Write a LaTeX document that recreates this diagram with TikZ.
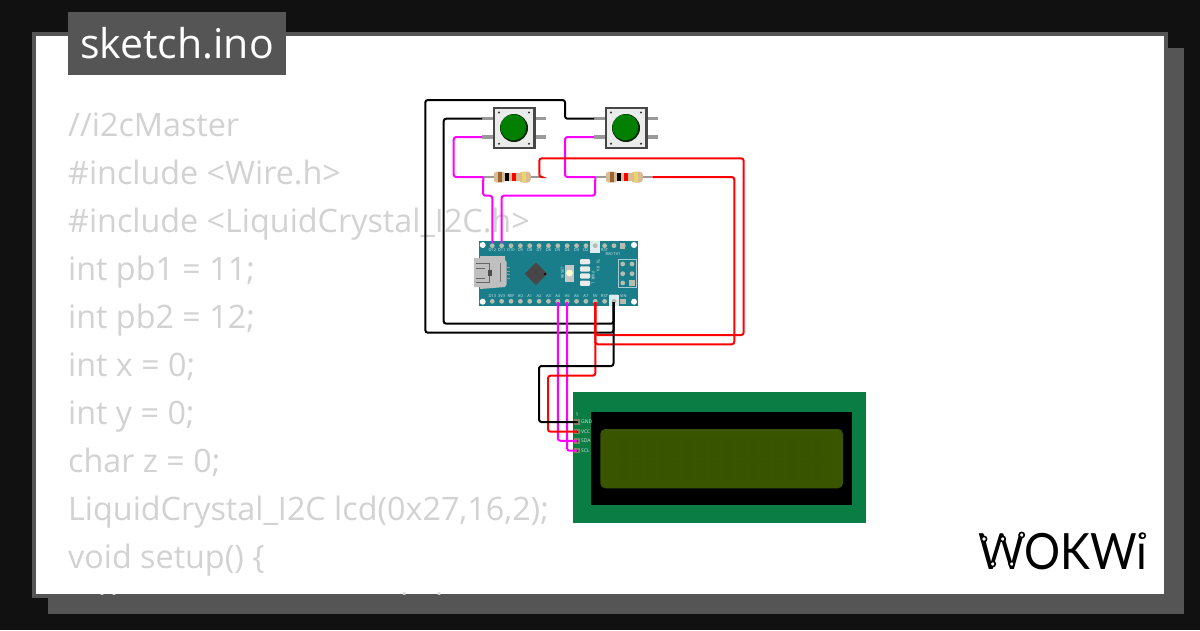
\documentclass[tikz,border=0pt]{standalone}
\usepackage{fontspec}
\setmainfont{Open Sans}
\newfontfamily\logofont{Lato}
\usetikzlibrary{shapes.geometric}
\definecolor{pagedark}{HTML}{111111}
\definecolor{framegray}{HTML}{555555}
\definecolor{codegray}{HTML}{D2D2D2}
\definecolor{nanoteal}{HTML}{1A7E8A}
\definecolor{lcdgreen}{HTML}{0A7D44}
\definecolor{lcdscreen}{HTML}{3A5500}
\definecolor{lcdcell}{HTML}{385400}
\definecolor{pinpad}{HTML}{8C8260}
\definecolor{wirepinkc}{HTML}{FF00FF}
\definecolor{restan}{HTML}{D9BB94}
\definecolor{resgold}{HTML}{EFD36A}
\definecolor{pincol}{HTML}{B4BDB0}
\definecolor{btngreen}{HTML}{007F00}
\tikzset{
  codeline/.style={anchor=base west,inner sep=0pt,text=codegray,font=\fontsize{32.3}{36}\selectfont},
  pinlbl/.style={inner sep=0pt,text=white!85!nanoteal,font=\fontsize{4}{5}\selectfont},
  lcdlbl/.style={anchor=west,inner sep=0pt,text=white!85!lcdgreen,font=\fontsize{5}{6}\selectfont},
  wire/.style={line width=2pt,rounded corners=2.5pt},
  wireblack/.style={wire,draw=black},
  wirered/.style={wire,draw=red},
  wirepink/.style={wire,draw=wirepinkc},
  lead/.style={line width=2pt,draw=black!40},
}
\begin{document}
\begin{tikzpicture}[x=1pt,y=-1pt]
 \useasboundingbox (0,0) rectangle (1200,630);
 \fill[pagedark] (0,0) rectangle (1200,630);
 \fill[framegray] (48,48) rectangle (1184,614);
 \fill[framegray] (32,32) rectangle (1168,598);
 \fill[white] (36,36) rectangle (1164,594);
% code behind the circuit
 \begin{scope}
  \clip (36,36) rectangle (1164,594);
  \node[codeline] (code1) at (68,136) {//i2cMaster};
  \node[codeline] (code2) at (68,184) {\#include <Wire.h>};
  \node[codeline] (code3) at (68,232) {\#include <LiquidCrystal\_I2C.h>};
  \node[codeline] (code4) at (68,280) {int pb1 = 11;};
  \node[codeline] (code5) at (68,328) {int pb2 = 12;};
  \node[codeline] (code6) at (68,376) {int x = 0;};
  \node[codeline] (code7) at (68,424) {int y = 0;};
  \node[codeline] (code8) at (68,472) {char z = 0;};
  \node[codeline] (code9) at (68,520) {LiquidCrystal\_I2C lcd(0x27,16,2);};
  \node[codeline] (code10) at (68,568) {void setup() \{};
  \node[codeline] (code11) at (92,617.5) {// put your setup code here, to run once:};
 \end{scope}
 \fill[framegray] (68,12) rectangle (286,75);
 \node[anchor=base west,inner sep=0pt,text=white,font=\fontsize{41}{46}\selectfont] (title) at (80,58) {sketch.ino};
% buttons
 \foreach \nm/\cx in {btna/514,btnb/626} {
  \draw[line width=3.5pt,black!40] (\cx-32,118.7)--(\cx+32,118.7);
  \draw[line width=3.5pt,black!40] (\cx-32,137)--(\cx+32,137);
  \draw[line width=2.6pt,draw=black!72,fill=black!8] (\cx-20.2,108) rectangle (\cx+20.2,148);
  \foreach \sx in {-15,15} \foreach \sy in {112.5,143.7} \fill[black!80] (\cx+\sx,\sy) circle (1.2pt);
  \fill[black!70!btngreen] (\cx,128) circle (14pt);
  \fill[btngreen] (\cx-0.7,127.3) circle (13pt);
  \coordinate (\nm T) at (\cx-32,118.7);
  \coordinate (\nm B) at (\cx-32,137);
 }
% resistors
 \foreach \nm/\cx in {resa/512.3,resb/624.3} {
  \draw[lead] (\cx-29,177)--(\cx+28,177);
  \fill[rounded corners=3pt,fill=restan] (\cx-18.5,171.7) rectangle (\cx-7,182.5);
  \fill[rounded corners=3pt,fill=restan] (\cx+7,171.7) rectangle (\cx+18.5,182.5);
  \fill[restan] (\cx-10,173) rectangle (\cx+10,181);
  \fill[brown!80!black] (\cx-14,172) rectangle (\cx-10.5,182.2);
  \fill[black] (\cx-7,173) rectangle (\cx-3.5,181);
  \fill[red] (\cx-0.2,173) rectangle (\cx+3.2,181);
  \fill[resgold] (\cx+10,172) rectangle (\cx+13.5,182.2);
  \coordinate (\nm L) at (\cx-29,177);
  \coordinate (\nm R) at (\cx+28,177);
 }
% nano
 \fill[nanoteal] (479,241) rectangle (637.7,305.7);
 \foreach \cx in {482.7,634} \foreach \cy in {245,301.7} \fill[white] (\cx,\cy) circle (3pt);
 \fill[white!85!nanoteal] (590.3,241) rectangle (599.5,252.5);
 \fill[white!85!nanoteal] (609,295) rectangle (618.5,306);
 \foreach \lbl [count=\i from 0] in {D12,D11,D10,D9,D8,D7,D6,D5,D4,D3,D2,GND,RST,,} {
  \fill[pincol] ({492.3+9.36*\i},245.7) circle (2.4pt);
  \node[pinlbl] (top\i) at ({492.3+9.36*\i},250.5) {\lbl};
 }
 \foreach \lbl [count=\i from 0] in {D13,3V3,REF,A0,A1,A2,A3,A4,A5,A6,A7,5V,RST,GND,VIN} {
  \fill[pincol] ({492.3+9.36*\i},301.3) circle (2.4pt);
  \node[pinlbl] (bot\i) at ({492.3+9.36*\i},296.3) {\lbl};
 }
 \fill[pincol] (619.8,243) rectangle (625.3,248.5);
 \fill[pincol] (620,298.5) rectangle (625.5,304);
 \node[pinlbl] (rxtx) at (613,254.5) {RX0 TX1};
% usb socket
 \fill[black!25] (474,258) -- (480,258) -- (480,256) -- (505,256) -- (505,260) -- (506.7,262) -- (506.7,284) -- (505,287) -- (480,289) -- (480,287) -- (474,287) -- cycle;
 \draw[line width=1pt,black!60] (476,263.5)--(489,263.5)--(489,282)--(476,282);
 \draw[line width=1pt,black!60] (476,268)--(485,268);
 \draw[line width=1pt,black!60] (476,278)--(485,278);
 \fill[black!70] (488,270) rectangle (492,276);
 \draw[line width=0.8pt,black!55] (500,263)--(500,282);
 \foreach \cy in {267.5,271,274.5,278} \draw[line width=0.7pt,black!40] (506.7,\cy)--(510,\cy);
% chip, reset button and leds
 \node[diamond,fill=black!72,minimum width=23pt,minimum height=23pt,inner sep=0pt] (chip) at (536,273.7) {};
 \fill[black] (545,274) circle (1.2pt);
 \fill[black!22] (565,265) rectangle (574,281.7);
 \fill[yellow!20!white] (569.5,273) circle (3.4pt);
 \node[pinlbl,rotate=90] (rstlbl) at (562.5,273) {RESET};
 \foreach \cy in {261.7,269,276,283.3} \fill[rounded corners=1pt,fill=black!8] (580,\cy-2.6) rectangle (590,\cy+2.6);
 \node[pinlbl,rotate=-90] (txlbl) at (598,261.5) {TX};
 \node[pinlbl,rotate=-90] (rxlbl) at (598,269) {RX};
 \node[pinlbl,rotate=-90] (pwrlbl) at (593,276) {PWR};
 \node[pinlbl,rotate=-90] (llbl) at (593,283.5) {L};
 \draw[line width=0.6pt,white!60!nanoteal] (618.3,259.3) rectangle (636.7,287.3);
 \foreach \cx in {622.7,632} \foreach \cy in {264,273.7,283} \fill[pincol] (\cx,\cy) circle (2.4pt);
 \fill[pincol] (629.3,280.3) rectangle (634.7,285.7);
 \coordinate (nanoD12) at (492.3,243);
 \coordinate (nanoD11) at (501.6,243);
 \coordinate (nanoAfour) at (557.8,302);
 \coordinate (nanoAfive) at (567,302);
 \coordinate (nanoFive) at (595.3,302);
 \coordinate (nanoGnd) at (613.5,302);
% lcd
 \fill[lcdgreen] (573,392) rectangle (866,523.3);
 \fill[black] (591,412.3) rectangle (852.3,505);
 \fill[rounded corners=5pt,fill=lcdscreen] (600.3,429) rectangle (843,488.3);
 \foreach \i in {0,...,15} {
  \fill[lcdcell] ({619+12.85*\i},437.3) rectangle ++(11,20.7);
  \fill[lcdcell] ({619+12.85*\i},460) rectangle ++(11,20);
 }
 \node[lcdlbl] (lcdone) at (575.5,415) {1};
 \foreach \nm/\cy in {GND/422,VCC/431.7,SDA/441,SCL/450.7} {
  \fill[pinpad] (574.2,\cy-2.7) rectangle (580,\cy+2.7);
  \fill[black] (577.2,\cy) circle (1.2pt);
  \node[lcdlbl] (lbl\nm) at (581,\cy) {\nm};
  \coordinate (lcd\nm) at (577.2,\cy);
 }
% wires
 \draw[wirepink] (btnaB)--(453.7,137)--(453.7,177)--(resaL);
 \draw[wirepink] (resaL)--(483,195.7)--(492.3,195.7)--(nanoD12);
 \draw[wirepink] (btnbB)--(565,137)--(565,177)--(resbL);
 \draw[wirepink] (resbL)--(595,195.7)--(501.6,195.7)--(nanoD11);
 \draw[wireblack] (btnbT)--(565,118.7)--(565,100)--(425.3,100)--(425.3,332.7)--(613.5,332.7)--(nanoGnd);
 \draw[wireblack] (btnaT)--(443.7,118.7)--(443.7,323.7)--(613.5,323.7)--(nanoGnd);
 \draw[wirered] (resaR)--(539.3,177)--(539.3,158.3)--(743.7,158.3)--(743.7,335)--(595.3,335)--(nanoFive);
 \draw[wirered] (resbR)--(734.3,177)--(734.3,344.3)--(595.3,344.3)--(nanoFive);
 \draw[wirepink] (nanoAfour)--(557.8,440.7)--(lcdSDA);
 \draw[wirepink] (nanoAfive)--(567,450.7)--(lcdSCL);
 \draw[wirered] (nanoFive)--(595.3,375.7)--(548,375.7)--(548,431.7)--(lcdVCC);
 \draw[wireblack] (nanoGnd)--(613.5,366)--(539,366)--(539,422)--(lcdGND);
% logo
 \node[anchor=base west,inner sep=0pt,font=\logofont\fontsize{50}{50}\selectfont] (logo) at (978,569) {\scalebox{.9}[1]{WOKWi}};
 \foreach \cx/\cy in {984/539,1002.7/539,1021.7/535,992.7/564,1011.7/564,1142.7/535.7} \draw[line width=1.6pt,fill=white] (\cx,\cy) circle (2.6pt);
\end{tikzpicture}
\end{document}
